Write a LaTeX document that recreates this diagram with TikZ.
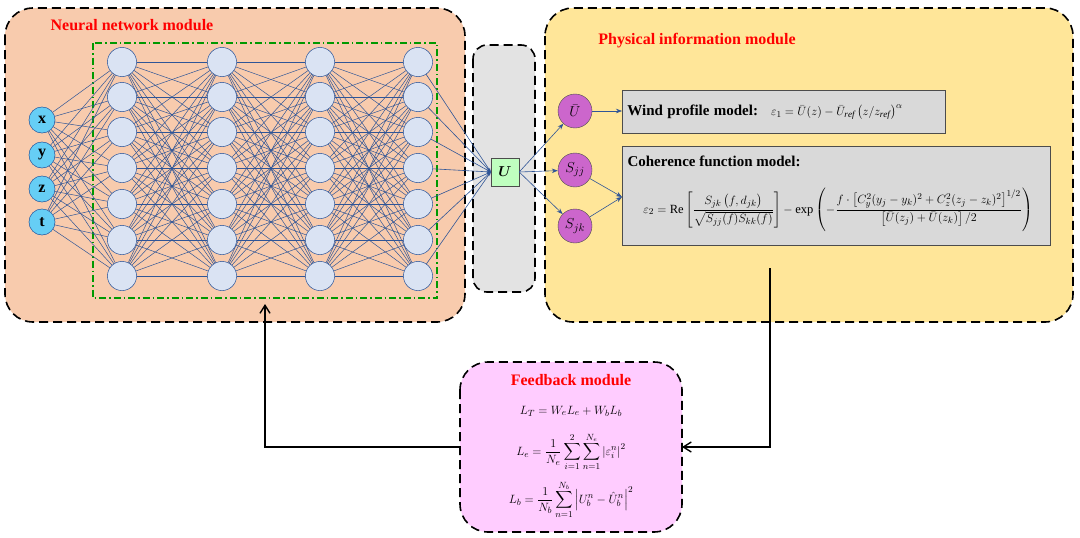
\documentclass[tikz,border=0pt]{standalone}
\usepackage{amsmath}
\usepackage{fontspec}
\setmainfont{Liberation Serif}
\usetikzlibrary{arrows.meta}
\definecolor{peach}{HTML}{F8CBAD}
\definecolor{sand}{HTML}{FFE699}
\definecolor{pinkbg}{HTML}{FFCCFF}
\definecolor{midg}{HTML}{E3E3E3}
\definecolor{boxg}{HTML}{D9D9D9}
\definecolor{neur}{HTML}{DAE3F3}
\definecolor{linkb}{HTML}{2F5597}
\definecolor{mag}{HTML}{CC66CC}
\begin{document}
\begin{tikzpicture}[x=1pt,y=-1pt,
 module/.style={draw=black,line width=1.6pt,dash pattern=on 9pt off 5pt,rounded corners=28pt},
 title/.style={text=red,font=\bfseries\fontsize{16}{18}\selectfont},
 inp/.style={circle,draw=linkb,fill=cyan!60,minimum size=26pt,inner sep=0pt,font=\bfseries\fontsize{16}{18}\selectfont},
 neu/.style={circle,draw=linkb,fill=neur,minimum size=29pt,inner sep=0pt},
 phys/.style={circle,draw=black!70,fill=mag,minimum size=34pt,inner sep=0pt,font=\fontsize{15}{17}\selectfont},
 link/.style={draw=linkb,line width=0.5pt},
 arr/.style={draw=linkb,line width=0.6pt,-{Stealth[length=6pt]}},
 fb/.style={draw=black,line width=1.4pt,-{Straight Barb[length=8pt,width=10pt]}},
 mbox/.style={draw=black!70,fill=boxg,line width=0.8pt},
 eq/.style={font=\fontsize{13}{16}\selectfont}]
\useasboundingbox (0,0) rectangle (1080,538);
% modules
\draw[module,fill=peach] (5,8) rectangle (465,322);
\draw[module,fill=midg,rounded corners=14pt] (473,45) rectangle (535,292);
\draw[module,fill=sand] (545,8) rectangle (1073,322);
\draw[module,fill=pinkbg] (460,362) rectangle (682,532);
\node[title] at (132,25) {Neural network module};
\node[title] at (697,41) {Physical information module};
\node[title] at (571,380) {Feedback module};
\draw[green!60!black,line width=1.3pt,dash pattern=on 7pt off 3pt on 1.5pt off 3pt] (93,43) rectangle (437,298);
% inputs
\foreach \n/\y in {x/120,y/155,z/189,t/222}{\node[inp] (i\n) at (42,\y) {\n};}
% layers
\foreach \l/\x in {1/122,2/222,3/320,4/418}{
 \foreach \k/\y in {1/62,2/97,3/132,4/168,5/204,6/240,7/276}{
  \node[neu] (n\l\k) at (\x,\y) {};}}
\foreach \a in {x,y,z,t}{\foreach \k in {1,...,7}{\draw[link] (i\a) -- (n1\k);}}
\foreach \l/\m in {1/2,2/3,3/4}{\foreach \a in {1,...,7}{\foreach \b in {1,...,7}{\draw[link] (n\l\a) -- (n\m\b);}}}
\foreach \l in {1,2,3,4}{\foreach \k in {1,...,7}{\node[neu] at (n\l\k) {};}}
\foreach \n/\y in {x/120,y/155,z/189,t/222}{\node[inp] at (42,\y) {\n};}
% U
\node[draw=black!70,fill=green!25,minimum size=28pt,inner sep=0pt,font=\bfseries\fontsize{15}{17}\selectfont] (U) at (505,172) {$\boldsymbol{U}$};
\foreach \k in {1,...,7}{\draw[arr,-{Stealth[length=4pt]}] (n4\k) -- (U.west);}
\node[phys] (ub) at (575,111) {$\bar U$};
\node[phys] (sjj) at (575,170) {$S_{jj}$};
\node[phys] (sjk) at (575,226) {$S_{jk}$};
\foreach \c in {ub,sjj,sjk}{\draw[arr] (U.east) -- (\c);}
\node[mbox,anchor=north west,minimum width=323pt,minimum height=43pt,text width=313pt,align=left,inner sep=5pt,eq] (wind) at (622,90)
 {\textbf{\fontsize{15}{17}\selectfont Wind profile model:}\quad $\varepsilon_1=\bar U(z)-\bar U_{\mathit{ref}}\left(z/z_{\mathit{ref}}\right)^{\alpha}$};
\node[mbox,anchor=north west,minimum width=428pt,minimum height=99pt] (coh) at (622,146) {};
\node[anchor=north west,font=\bfseries\fontsize{15}{17}\selectfont] at (624,152) {Coherence function model:};
\node[font=\fontsize{12.5}{15}\selectfont] at (838,210) {$\varepsilon_2=\mathrm{Re}\left[\dfrac{S_{jk}\left(f,d_{jk}\right)}{\sqrt{S_{jj}(f)S_{kk}(f)}}\right]-\exp\left(-\dfrac{f\cdot\left[C_y^2(y_j-y_k)^2+C_z^2(z_j-z_k)^2\right]^{1/2}}{\left[\bar U(z_j)+\bar U(z_k)\right]/2}\right)$};
\draw[arr] (ub) -- (wind.west|-ub);
\coordinate (cin) at (622,197);
\draw[arr] (sjj) -- (cin);
\draw[arr] (sjk) -- (cin);
% feedback
\node[eq] at (571,411) {$L_T=W_eL_e+W_bL_b$};
\node[eq] at (571,452) {$L_e=\dfrac{1}{N_e}\displaystyle\sum_{i=1}^{2}\sum_{n=1}^{N_e}\left|\varepsilon_i^n\right|^2$};
\node[eq] at (571,500) {$L_b=\dfrac{1}{N_b}\displaystyle\sum_{n=1}^{N_b}\left|U_b^n-\hat U_b^n\right|^2$};
\coordinate (p1) at (770,268);
\coordinate (p2) at (770,447);
\coordinate (fbr) at (682,447);
\draw[fb] (p1) -- (p2) -- (fbr);
\coordinate (q1) at (460,447);
\coordinate (q2) at (265,447);
\coordinate (nnb) at (265,304);
\draw[fb] (q1) -- (q2) -- (nnb);
\end{tikzpicture}
\end{document}
